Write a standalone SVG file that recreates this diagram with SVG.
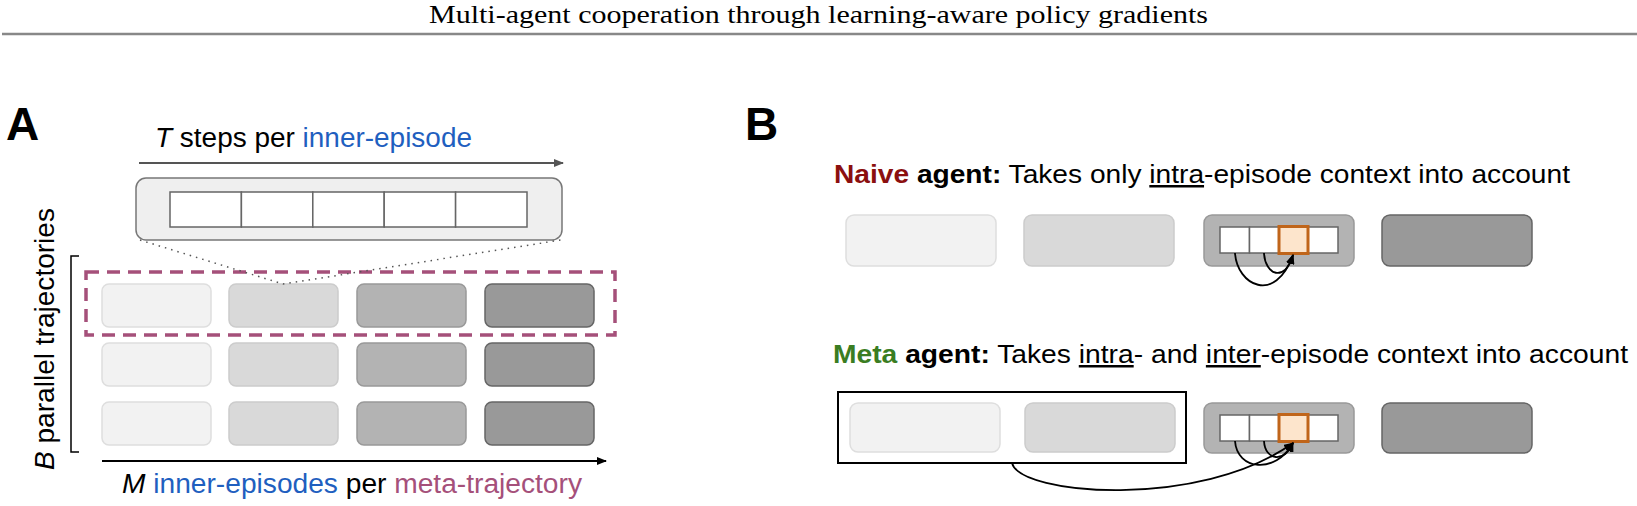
<svg xmlns="http://www.w3.org/2000/svg" width="1637" height="506" viewBox="0 0 1637 506">
<style>
text{font-family:"Liberation Sans",Arial,sans-serif;fill:#000}
.title{font-family:"Liberation Serif","Times New Roman",serif;font-size:25px}
.lbl{font-size:27px}
.big{font-size:46px;font-weight:bold}
.bt{font-size:25px}
.blue{fill:#1f5fbf}
.plum{fill:#a5507a}
.c1{fill:#f2f2f2;stroke:#dedede;stroke-width:1.5}
.c2{fill:#d9d9d9;stroke:#cccccc;stroke-width:1.5}
.c3{fill:#b3b3b3;stroke:#999;stroke-width:1.5}
.c4{fill:#999;stroke:#666;stroke-width:1.5}
.cell{fill:#fff;stroke:#666;stroke-width:1.5}
.hl{fill:#fde5cc;stroke:#c0651a;stroke-width:3}
.arc{fill:none;stroke:#000;stroke-width:1.8}
</style>
<defs>
<marker id="ag" markerWidth="10" markerHeight="8" refX="9" refY="4" orient="auto" markerUnits="userSpaceOnUse"><path d="M0,0L10,4L0,8z" fill="#555"/></marker>
<marker id="ab" markerWidth="10" markerHeight="8" refX="9" refY="4" orient="auto" markerUnits="userSpaceOnUse"><path d="M0,0L10,4L0,8z" fill="#000"/></marker>
</defs>
<text class="title" x="429" y="23" textLength="779" lengthAdjust="spacingAndGlyphs">Multi-agent cooperation through learning-aware policy gradients</text>
<line x1="2" y1="34" x2="1637" y2="34" stroke="#888" stroke-width="2.5"/>

<g id="panelA">
<text class="big" x="6" y="140">A</text>
<text class="lbl" x="155" y="147" textLength="317" lengthAdjust="spacingAndGlyphs"><tspan font-style="italic">T</tspan> steps per <tspan class="blue">inner-episode</tspan></text>
<g id="zoombox">
<rect x="136" y="178" width="426" height="62" rx="10" fill="#efefef" stroke="#777" stroke-width="1.5"/>
<rect class="cell" x="170" y="192" width="71.4" height="35"/>
<rect class="cell" x="241.4" y="192" width="71.4" height="35"/>
<rect class="cell" x="312.8" y="192" width="71.4" height="35"/>
<rect class="cell" x="384.2" y="192" width="71.4" height="35"/>
<rect class="cell" x="455.6" y="192" width="71.4" height="35"/>
</g>
<g id="bracket"><path d="M79,256H71V452H79" fill="none" stroke="#000" stroke-width="1.5"/></g>
<text class="lbl" transform="translate(54,470) rotate(-90)" textLength="262" lengthAdjust="spacingAndGlyphs"><tspan font-style="italic">B</tspan> parallel trajectories</text>
<g id="grid">
<rect class="c1" x="102" y="284" width="109" height="43" rx="7"/>
<rect class="c2" x="229" y="284" width="109" height="43" rx="7"/>
<rect class="c3" x="357" y="284" width="109" height="43" rx="7"/>
<rect class="c4" x="485" y="284" width="109" height="43" rx="7"/>
<rect class="c1" x="102" y="343" width="109" height="43" rx="7"/>
<rect class="c2" x="229" y="343" width="109" height="43" rx="7"/>
<rect class="c3" x="357" y="343" width="109" height="43" rx="7"/>
<rect class="c4" x="485" y="343" width="109" height="43" rx="7"/>
<rect class="c1" x="102" y="402" width="109" height="43" rx="7"/>
<rect class="c2" x="229" y="402" width="109" height="43" rx="7"/>
<rect class="c3" x="357" y="402" width="109" height="43" rx="7"/>
<rect class="c4" x="485" y="402" width="109" height="43" rx="7"/>
</g>
<rect id="metabox" x="86" y="272" width="529" height="63" fill="none" stroke="#a5507a" stroke-width="3.5" stroke-dasharray="13 8"/>
<text class="lbl" x="122" y="493" textLength="460" lengthAdjust="spacingAndGlyphs"><tspan font-style="italic">M</tspan> <tspan class="blue">inner-episodes</tspan> per <tspan class="plum">meta-trajectory</tspan></text>
</g>

<g id="panelB">
<text class="big" x="745" y="140">B</text>
<text class="bt" x="834" y="183" textLength="736" lengthAdjust="spacingAndGlyphs"><tspan font-weight="bold" fill="#8b0f0f">Naive</tspan> <tspan font-weight="bold">agent:</tspan> Takes only <tspan text-decoration="underline">intra</tspan>-episode context into account</text>
<g id="naiveRow">
<rect class="c1" x="846" y="215" width="150" height="51" rx="8"/>
<rect class="c2" x="1024" y="215" width="150" height="51" rx="8"/>
<rect class="c3" x="1204" y="215" width="150" height="51" rx="8"/>
<rect class="c4" x="1382" y="215" width="150" height="51" rx="8"/>
<rect class="cell" x="1220" y="227" width="29.5" height="26"/>
<rect class="cell" x="1249.5" y="227" width="29.5" height="26"/>
<rect class="cell" x="1308" y="227" width="30" height="26"/>
<rect class="hl" x="1279" y="226.5" width="29" height="27"/>
</g>
<text class="bt" x="833" y="363" textLength="795" lengthAdjust="spacingAndGlyphs"><tspan font-weight="bold" fill="#3a7d22">Meta</tspan> <tspan font-weight="bold">agent:</tspan> Takes <tspan text-decoration="underline">intra</tspan>- and <tspan text-decoration="underline">inter</tspan>-episode context into account</text>
<g id="metaRow">
<rect x="838" y="392" width="348" height="71" fill="#fff" stroke="#000" stroke-width="2"/>
<rect class="c1" x="850" y="403" width="150" height="49" rx="8"/>
<rect class="c2" x="1025" y="403" width="150" height="49" rx="8"/>
<rect class="c3" x="1204" y="403" width="150" height="50" rx="8"/>
<rect class="c4" x="1382" y="403" width="150" height="50" rx="8"/>
<rect class="cell" x="1220" y="415" width="29.5" height="26"/>
<rect class="cell" x="1249.5" y="415" width="29.5" height="26"/>
<rect class="cell" x="1308" y="415" width="30" height="26"/>
<rect class="hl" x="1279" y="414.5" width="29" height="27"/>
</g>
</g>

<g id="connectors">
<line x1="139" y1="163" x2="563" y2="163" stroke="#555" stroke-width="1.8" marker-end="url(#ag)"/>
<line x1="102" y1="461" x2="606" y2="461" stroke="#000" stroke-width="2" marker-end="url(#ab)"/>
<path d="M140,240L283,284L561,240" fill="none" stroke="#555" stroke-width="1.5" stroke-dasharray="1.5 5"/>
<path class="arc" d="M1235,253C1237,285 1275,305 1293,255" marker-end="url(#ab)"/>
<path class="arc" d="M1264,253C1265,275 1285,283 1293,255" marker-end="url(#ab)"/>
<path class="arc" d="M1235,441C1237,470 1275,475 1293,443" marker-end="url(#ab)"/>
<path class="arc" d="M1264,441C1265,461 1285,463 1293,443" marker-end="url(#ab)"/>
<path class="arc" d="M1012,463C1020,495 1200,510 1293,443" marker-end="url(#ab)"/>
</g>
</svg>
